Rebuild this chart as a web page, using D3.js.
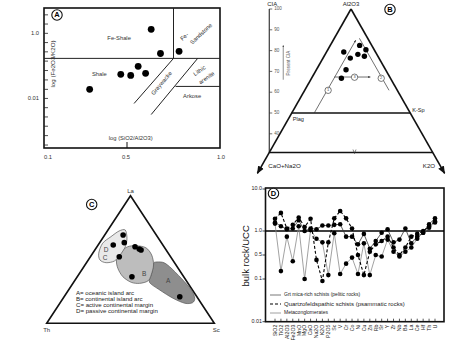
<!DOCTYPE html>
<html>
<head>
<meta charset="utf-8">
<script src="https://cdn.jsdelivr.net/npm/d3@7"></script>
<style>
  body { margin: 0; background: #fff; }
  svg { display: block; }
  text { font-family: "Liberation Sans", Arial, sans-serif; }
</style>
</head>
<body>
<div id="chart"></div>
<script>
/* Four-panel provenance figure: A (Herron plot), B (A-CN-K), C (La-Th-Sc), D (UCC normalised) */

// ---- panel A : log(SiO2/Al2O3) vs log(Fe2O3/K2O)
const aSiAl = [0.63, 0.68, 0.78, 0.56, 0.47, 0.52, 0.60, 0.32];
const aFeK  = [1.33, 0.24, 0.28, 0.097, 0.055, 0.051, 0.059, 0.019];
const aFieldLines = [
  [[0.1, 0.17], [1.0, 0.17]],
  [[0.75, 6], [0.75, 0.17]],
  [[0.538, 0.007], [0.75, 0.17]],
  [[0.63, 0.0032], [0.88, 0.17]],
  [[0.761, 0.0234], [1.0, 0.0234]]
];
const aTicks = [3.7, 1.93, 1, 0.52, 0.27, 0.14, 0.072, 0.037, 0.019, 0.01, 0.0052, 0.0027, 0.0014, 0.00072, 0.00037];

// ---- panel B : A-CN-K ternary (molar %)
const bA  = [82.5, 80.4, 79.3, 78.2, 77.3, 76.4, 70.8, 66.7];
const bCN = [5.1, 3.5, 13.4, 8.0, 5.7, 12.1, 16.7, 20.7];
const bK  = [12.4, 16.1, 7.3, 13.8, 17.0, 11.5, 12.5, 12.6];
const bTrendA = [60.9, 67.2, 66.7];
const bTrendK = [9.9, 17.9, 29.4];
const bTrendLabel = ["1", "3", "2"];
const bCiaTicks = [40, 50, 60, 70, 80, 90, 100];

// ---- panel C : La-Th-Sc ternary (fractions)
const cLa = [0.692, 0.632, 0.614, 0.600, 0.582, 0.574, 0.522, 0.365, 0.208];
const cSc = [0.110, 0.147, 0.090, 0.227, 0.261, 0.276, 0.172, 0.326, 0.690];
const fieldA_La = [0.478, 0.478, 0.444, 0.353, 0.261, 0.196, 0.161, 0.157, 0.196, 0.261, 0.321, 0.379, 0.457];
const fieldA_Sc = [0.404, 0.453, 0.511, 0.626, 0.733, 0.785, 0.789, 0.746, 0.656, 0.544, 0.453, 0.434, 0.409];
const fieldB_La = [0.608, 0.592, 0.535, 0.457, 0.379, 0.332, 0.313, 0.321, 0.365, 0.431, 0.496, 0.561, 0.600];
const fieldB_Sc = [0.229, 0.296, 0.359, 0.409, 0.434, 0.438, 0.398, 0.344, 0.272, 0.209, 0.169, 0.163, 0.183];
const fieldCD_La = [0.731, 0.666, 0.600, 0.535, 0.488, 0.475, 0.496, 0.549, 0.627, 0.679, 0.723];
const fieldCD_Sc = [0.103, 0.146, 0.169, 0.170, 0.160, 0.117, 0.070, 0.036, 0.020, 0.044, 0.070];
const cLegend = ["A= oceanic island arc", "B= continental island arc",
                 "C= active continental margin", "D= passive continental margin"];

// ---- panel D : bulk rock / UCC
const elements = ["SiO2","TiO2","Al2O3","Fe2O3","MnO","MgO","CaO","Na2O","K2O","P2O5",
  "Sc","V","Cr","Co","Ni","Cu","Zn","Rb","Sr","Y","Zr","Nb","Ba","La","Ce","Hf","Th","U"];
const pelitic   = [1.6, 1.3, 1.1, 1.15, 1.8, 1.0, 1.15, 1.1, 1.35, 1.35, 1.4, 1.45, 0.85, 0.85,
  0.68, 0.92, 0.6, 0.75, 0.95, 1.1, 0.72, 0.78, 1.15, 0.7, 0.85, 0.95, 1.45, 2.0];
const psammatic = [1.95, 2.7, 1.15, 1.4, 2.1, 1.25, 1.95, 0.36, 0.09, 0.72, 2.0, 3.0, 2.0, 1.15,
  0.5, 0.13, 0.55, 0.68, 0.75, 0.85, 0.62, 0.5, 0.62, 0.85, 0.92, 1.0, 1.3, 1.7];
const metaconglomerate = [1.5, 0.17, 0.85, 0.33, 1.3, 0.1, 1.05, 0.8, 0.72, 0.13, 0.94, 0.14, 0.28, 0.42,
  0.14, 0.7, 0.13, 0.5, 0.45, 0.78, 0.55, 0.45, 0.55, 0.62, 0.8, 0.95, 1.2, 1.6];
const dTickValues = [10, 1, 0.5, 0.1, 0.01];
const dTickLabels = ["10.0", "1.0", "0.5", "0.1", "0.01"];
const dLegend = ["Grt mica-rich schists (pelitic rocks)", "Quartzofeldspathic schists (psammatic rocks)", "Metaconglomerates"];

const svg = d3.select("#chart").append("svg")
  .attr("width", 474)
  .attr("height", 350);

const defs = svg.append("defs");
defs.append("marker")
  .attr("id", "arrow")
  .attr("viewBox", "0 0 10 10")
  .attr("refX", 9).attr("refY", 5)
  .attr("markerWidth", 5).attr("markerHeight", 5)
  .attr("orient", "auto")
  .append("path").attr("d", "M0,1 L10,5 L0,9 Z").attr("fill", "#111");
defs.append("marker")
  .attr("id", "arrowSmall")
  .attr("viewBox", "0 0 10 10")
  .attr("refX", 9).attr("refY", 5)
  .attr("markerWidth", 3.5).attr("markerHeight", 3.5)
  .attr("orient", "auto")
  .append("path").attr("d", "M0,1 L10,5 L0,9 Z").attr("fill", "#333");

function circledLetter(g, x, y, letter) {
  g.append("circle").attr("cx", x).attr("cy", y).attr("r", 5.2)
    .attr("fill", "#fff").attr("stroke", "#111").attr("stroke-width", 1.1);
  g.append("text").attr("x", x).attr("y", y + 0.3)
    .attr("text-anchor", "middle").attr("dominant-baseline", "middle")
    .attr("font-size", 7.5).attr("font-weight", "bold").text(letter);
}

/* ================= Panel A ================= */
const xA = d3.scaleLinear().domain([0.1, 0.5, 1.0]).range([44, 127, 220]);
const yA = d3.scaleLog().domain([0.0003, 6]).range([148, 8]);
const gA = svg.append("g");
const monoA = "DejaVu Sans Mono, monospace";

gA.append("rect")
  .attr("x", xA(0.1)).attr("y", yA(6))
  .attr("width", xA(1) - xA(0.1)).attr("height", yA(0.0003) - yA(6))
  .attr("fill", "none").attr("stroke", "#111").attr("stroke-width", 1.6);

gA.selectAll("line.ytick").data(aTicks).join("line")
  .attr("x1", xA(0.1)).attr("x2", xA(0.1) + 4)
  .attr("y1", d => yA(d)).attr("y2", d => yA(d))
  .attr("stroke", "#222").attr("stroke-width", 0.8);

gA.append("line")
  .attr("x1", xA(0.5)).attr("x2", xA(0.5))
  .attr("y1", yA(0.0003)).attr("y2", yA(0.0003) - 6)
  .attr("stroke", "#111").attr("stroke-width", 1);

gA.selectAll("text.ylab").data([[1, "1.0"], [0.01, "0.01"]]).join("text")
  .attr("x", xA(0.1) - 5).attr("y", d => yA(d[0]))
  .attr("text-anchor", "end").attr("dominant-baseline", "middle")
  .attr("font-family", monoA).attr("font-size", 5.8).attr("fill", "#333")
  .text(d => d[1]);

gA.selectAll("text.xlab").data([[0.1, "0.1", 4], [0.5, "0.5", -1], [1.0, "1.0", 1]]).join("text")
  .attr("x", d => xA(d[0]) + d[2]).attr("y", 159)
  .attr("text-anchor", "middle")
  .attr("font-family", monoA).attr("font-size", 5.8).attr("fill", "#333")
  .text(d => d[1]);

const lineA = d3.line().x(d => xA(d[0])).y(d => yA(d[1]));
gA.selectAll("path.field").data(aFieldLines).join("path")
  .attr("d", lineA).attr("fill", "none")
  .attr("stroke", "#222").attr("stroke-width", 1);

gA.selectAll("circle.pt").data(aSiAl).join("circle")
  .attr("cx", d => xA(d)).attr("cy", (d, i) => yA(aFeK[i]))
  .attr("r", 3.4).attr("fill", "#000");

function labelA(t, x, y, rot, size) {
  const px = xA(x), py = yA(y);
  gA.append("text")
    .attr("transform", `translate(${px},${py}) rotate(${rot || 0})`)
    .attr("text-anchor", "middle").attr("dominant-baseline", "middle")
    .attr("font-family", monoA).attr("font-size", size || 5.8).attr("fill", "#333")
    .text(t);
}
labelA("Fe-Shale", 0.462, 0.72);
labelA("Shale", 0.367, 0.056);
labelA("Fe-", 0.81, 0.77, -43);
labelA("Sandstone", 0.9, 0.95, -43);
labelA("Graywacke", 0.6875, 0.029, -50);
labelA("Lithic", 0.891, 0.0695, -35);
labelA("arenite", 0.929, 0.042, -35);
labelA("Arkose", 0.85, 0.0113);
labelA("log (SiO2/Al2O3)", 0.52, 0.00057);
labelA("log (Fe2O3/K2O)", 0.143, 0.114, -90, 6.2);

circledLetter(gA, xA(0.1) + 13, yA(6) + 7, "A");

/* ================= Panel B ================= */
const yB = d3.scaleLinear().domain([0, 100]).range([217, 9]);
const xB = d3.scaleLinear().domain([0, 100]).range([232.5, 469.5]);
const tB = (a, k) => [xB(k + a / 2), yB(a)];
const gB = svg.append("g");
const lineB = d3.line();

// triangle sides with arrow tips below the base
gB.append("path").attr("d", lineB([tB(100, 0), tB(21, 0)]))
  .attr("stroke", "#111").attr("stroke-width", 1.6).attr("marker-end", "url(#arrow)");
gB.append("path").attr("d", lineB([tB(100, 0), tB(21, 79)]))
  .attr("stroke", "#111").attr("stroke-width", 1.6).attr("marker-end", "url(#arrow)");
gB.append("path").attr("d", lineB([tB(31, 0), tB(31, 69)]))
  .attr("stroke", "#111").attr("stroke-width", 1.6);
gB.append("path").attr("d", lineB([tB(50, 0), tB(50, 50)]))
  .attr("stroke", "#111").attr("stroke-width", 1.6);
gB.append("path").attr("d", lineB([[xB(50) + 2, yB(31) - 3], [xB(50) + 3.5, yB(31) + 1], [xB(50) + 5, yB(31) - 3]]))
  .attr("fill", "none").attr("stroke", "#333").attr("stroke-width", 0.6);

// CIA scale
const ciaX = xB(15.5);
gB.append("line").attr("x1", ciaX).attr("x2", ciaX)
  .attr("y1", yB(100)).attr("y2", yB(31))
  .attr("stroke", "#111").attr("stroke-width", 1);
gB.selectAll("line.cia").data(bCiaTicks).join("line")
  .attr("x1", ciaX).attr("x2", ciaX + 3)
  .attr("y1", d => yB(d)).attr("y2", d => yB(d))
  .attr("stroke", "#333").attr("stroke-width", 0.7);
gB.selectAll("text.cia").data(bCiaTicks).join("text")
  .attr("x", ciaX + 5).attr("y", d => yB(d))
  .attr("dominant-baseline", "middle")
  .attr("font-size", 4.6).attr("fill", "#555")
  .text(d => d);
gB.append("line").attr("x1", ciaX + 14).attr("x2", ciaX + 14)
  .attr("y1", yB(66)).attr("y2", yB(82.5))
  .attr("stroke", "#444").attr("stroke-width", 0.6).attr("marker-end", "url(#arrowSmall)");
gB.append("text")
  .attr("transform", `translate(${ciaX + 20},${yB(74)}) rotate(-90)`)
  .attr("text-anchor", "middle").attr("dominant-baseline", "middle")
  .attr("font-size", 4.6).attr("fill", "#555").text("Present CIA");

// weathering trends
gB.append("path").attr("d", lineB([tB(50, 9.5), tB(85, 9.5)]))
  .attr("stroke", "#333").attr("stroke-width", 0.7).attr("marker-end", "url(#arrowSmall)");
gB.append("path").attr("d", lineB([tB(60.9, 35.6), tB(85.9, 10.6)]))
  .attr("stroke", "#333").attr("stroke-width", 0.7);
gB.append("path").attr("d", lineB([tB(67.3, 9.3), tB(67.3, 24.5)]))
  .attr("stroke", "#333").attr("stroke-width", 0.7).attr("marker-end", "url(#arrowSmall)");

gB.selectAll("circle.pt").data(bA).join("circle")
  .attr("cx", (d, i) => tB(d, bK[i])[0]).attr("cy", d => yB(d))
  .attr("r", 2.7).attr("fill", "#000");

const trend = gB.selectAll("g.trend").data(bTrendA).join("g")
  .attr("transform", (d, i) => `translate(${tB(d, bTrendK[i])})`);
trend.append("circle").attr("r", 3.2)
  .attr("fill", "#fff").attr("stroke", "#222").attr("stroke-width", 0.6);
trend.append("text").attr("text-anchor", "middle").attr("dominant-baseline", "middle")
  .attr("font-size", 4).attr("fill", "#444").text((d, i) => bTrendLabel[i]);

gB.append("text").attr("x", xB(50)).attr("y", 6).attr("text-anchor", "middle")
  .attr("font-size", 6).attr("fill", "#222").text("Al2O3");
gB.append("text").attr("x", ciaX + 3).attr("y", 5.5).attr("text-anchor", "middle")
  .attr("font-size", 6).attr("fill", "#222").text("CIA");
gB.append("text").attr("x", tB(50, 0)[0] + 1).attr("y", yB(50) + 8)
  .attr("font-size", 5.6).attr("fill", "#222").text("Plag");
gB.append("text").attr("x", tB(50, 50)[0] + 2).attr("y", yB(50) - 1)
  .attr("font-size", 5.6).attr("fill", "#222").text("K-Sp");
gB.append("text").attr("x", tB(31, 0)[0] - 1).attr("y", 168)
  .attr("font-size", 6.2).attr("fill", "#222").text("CaO+Na2O");
gB.append("text").attr("x", tB(31, 69)[0] - 10).attr("y", 168)
  .attr("font-size", 6.2).attr("fill", "#222").text("K2O");

circledLetter(gB, 390, 9.5, "B");

/* ================= Panel C ================= */
const yC = d3.scaleLinear().domain([0, 1]).range([323.3, 195.7]);
const xC = d3.scaleLinear().domain([0, 1]).range([46.7, 214.3]);
const tC = (la, sc) => [xC(sc + la / 2), yC(la)];
const gC = svg.append("g");

gC.append("path")
  .attr("d", d3.line()([tC(1, 0), tC(0, 0), tC(0, 1)]) + "Z")
  .attr("fill", "none").attr("stroke", "#111").attr("stroke-width", 1.6)
  .attr("stroke-linejoin", "miter");

const fieldLine = d3.line().curve(d3.curveCardinalClosed.tension(0.1));
const fields = [
  {la: fieldA_La, sc: fieldA_Sc, fill: "#8e8e8e"},
  {la: fieldB_La, sc: fieldB_Sc, fill: "#bdbdbd"},
  {la: fieldCD_La, sc: fieldCD_Sc, fill: "#e9e9e9"}
];
gC.selectAll("path.field").data(fields).join("path")
  .attr("d", f => fieldLine(f.la.map((v, i) => tC(v, f.sc[i]))))
  .attr("fill", f => f.fill).attr("stroke", "#555").attr("stroke-width", 0.7);

gC.selectAll("text.fl").data([["D", 0.574, 0.067], ["C", 0.508, 0.094], ["B", 0.386, 0.389], ["A", 0.326, 0.5625]])
  .join("text")
  .attr("x", d => tC(d[1], d[2])[0]).attr("y", d => tC(d[1], d[2])[1])
  .attr("text-anchor", "middle").attr("dominant-baseline", "middle")
  .attr("font-size", 6.5).attr("fill", "#444").text(d => d[0]);

gC.selectAll("circle.pt").data(cLa).join("circle")
  .attr("cx", (d, i) => tC(d, cSc[i])[0]).attr("cy", d => yC(d))
  .attr("r", 2.8).attr("fill", "#000");

gC.append("text").attr("x", tC(1, 0)[0]).attr("y", yC(1) - 3).attr("text-anchor", "middle")
  .attr("font-size", 6).attr("fill", "#333").text("La");
gC.append("text").attr("x", tC(0, 0)[0]).attr("y", yC(0) + 9).attr("text-anchor", "middle")
  .attr("font-size", 6).attr("fill", "#333").text("Th");
gC.append("text").attr("x", tC(0, 1)[0] + 2).attr("y", yC(0) + 9).attr("text-anchor", "middle")
  .attr("font-size", 6).attr("fill", "#333").text("Sc");

gC.selectAll("text.leg").data(cLegend).join("text")
  .attr("x", 76).attr("y", (d, i) => 294.5 + i * 6.2)
  .attr("font-size", 6.1).attr("fill", "#222").text(d => d);

circledLetter(gC, 91.7, 204.5, "C");

/* ================= Panel D ================= */
const xD = d3.scalePoint().domain(elements).range([275, 435]);
const yD = d3.scaleLog().domain([0.01, 0.1, 0.5, 1, 10]).range([321.7, 279, 255, 231, 189]);
const gD = svg.append("g");
const frameD = {x0: 265.5, x1: 444, y0: 188, y1: 321.7};

gD.append("rect")
  .attr("x", frameD.x0).attr("y", frameD.y0)
  .attr("width", frameD.x1 - frameD.x0).attr("height", frameD.y1 - frameD.y0)
  .attr("fill", "none").attr("stroke", "#111").attr("stroke-width", 1.6);

gD.selectAll("line.yt").data(dTickValues).join("line")
  .attr("x1", frameD.x0 - 3).attr("x2", frameD.x0)
  .attr("y1", d => yD(d)).attr("y2", d => yD(d))
  .attr("stroke", "#111").attr("stroke-width", 0.8);
gD.selectAll("text.yt").data(dTickValues).join("text")
  .attr("x", frameD.x0 - 3.5).attr("y", d => yD(d))
  .attr("text-anchor", "end").attr("dominant-baseline", "middle")
  .attr("font-size", 5.4).attr("fill", "#222")
  .text((d, i) => dTickLabels[i]);

gD.selectAll("line.xt").data(elements).join("line")
  .attr("x1", d => xD(d)).attr("x2", d => xD(d))
  .attr("y1", frameD.y1).attr("y2", frameD.y1 - 3)
  .attr("stroke", "#111").attr("stroke-width", 0.7);
gD.selectAll("text.xt").data(elements).join("text")
  .attr("transform", d => `translate(${xD(d) + 1.8},${frameD.y1 + 3}) rotate(-90)`)
  .attr("text-anchor", "end")
  .attr("font-size", 5.2).attr("fill", "#222")
  .text(d => d);

gD.append("line")
  .attr("x1", frameD.x0).attr("x2", frameD.x1)
  .attr("y1", yD(1)).attr("y2", yD(1))
  .attr("stroke", "#000").attr("stroke-width", 1.6);

const dSeries = [
  {values: metaconglomerate, stroke: "#8a8a8a", width: 0.8, dash: null},
  {values: pelitic, stroke: "#333", width: 0.8, dash: null},
  {values: psammatic, stroke: "#000", width: 1.1, dash: "3,2"}
];
const lineD = d3.line().x((d, i) => xD(elements[i])).y(d => yD(d));
gD.selectAll("path.series").data(dSeries).join("path")
  .attr("d", s => lineD(s.values))
  .attr("fill", "none").attr("stroke", s => s.stroke)
  .attr("stroke-width", s => s.width).attr("stroke-dasharray", s => s.dash);

dSeries.forEach(s => {
  gD.append("g").selectAll("circle").data(s.values).join("circle")
    .attr("cx", (d, i) => xD(elements[i])).attr("cy", d => yD(d))
    .attr("r", 2.3).attr("fill", "#000");
});

const legRows = [
  {stroke: "#555", width: 0.8, dash: null, size: 5},
  {stroke: "#000", width: 1.2, dash: "3,2", size: 6},
  {stroke: "#888", width: 0.8, dash: null, size: 5}
];
const legD = gD.selectAll("g.leg").data(legRows).join("g")
  .attr("transform", (d, i) => `translate(270,${295 + i * 9})`);
legD.append("line").attr("x1", 0).attr("x2", 11)
  .attr("stroke", d => d.stroke).attr("stroke-width", d => d.width)
  .attr("stroke-dasharray", d => d.dash);
legD.append("text").attr("x", 14).attr("dominant-baseline", "middle")
  .attr("font-size", d => d.size).attr("fill", "#222")
  .text((d, i) => dLegend[i]);

gD.append("text")
  .attr("transform", `translate(246,${(frameD.y0 + frameD.y1) / 2 + 1}) rotate(-90)`)
  .attr("text-anchor", "middle").attr("dominant-baseline", "middle")
  .attr("font-size", 9.5).attr("fill", "#111").text("bulk rock/UCC");

circledLetter(gD, 273.5, 193.5, "D");
</script>
</body>
</html>
